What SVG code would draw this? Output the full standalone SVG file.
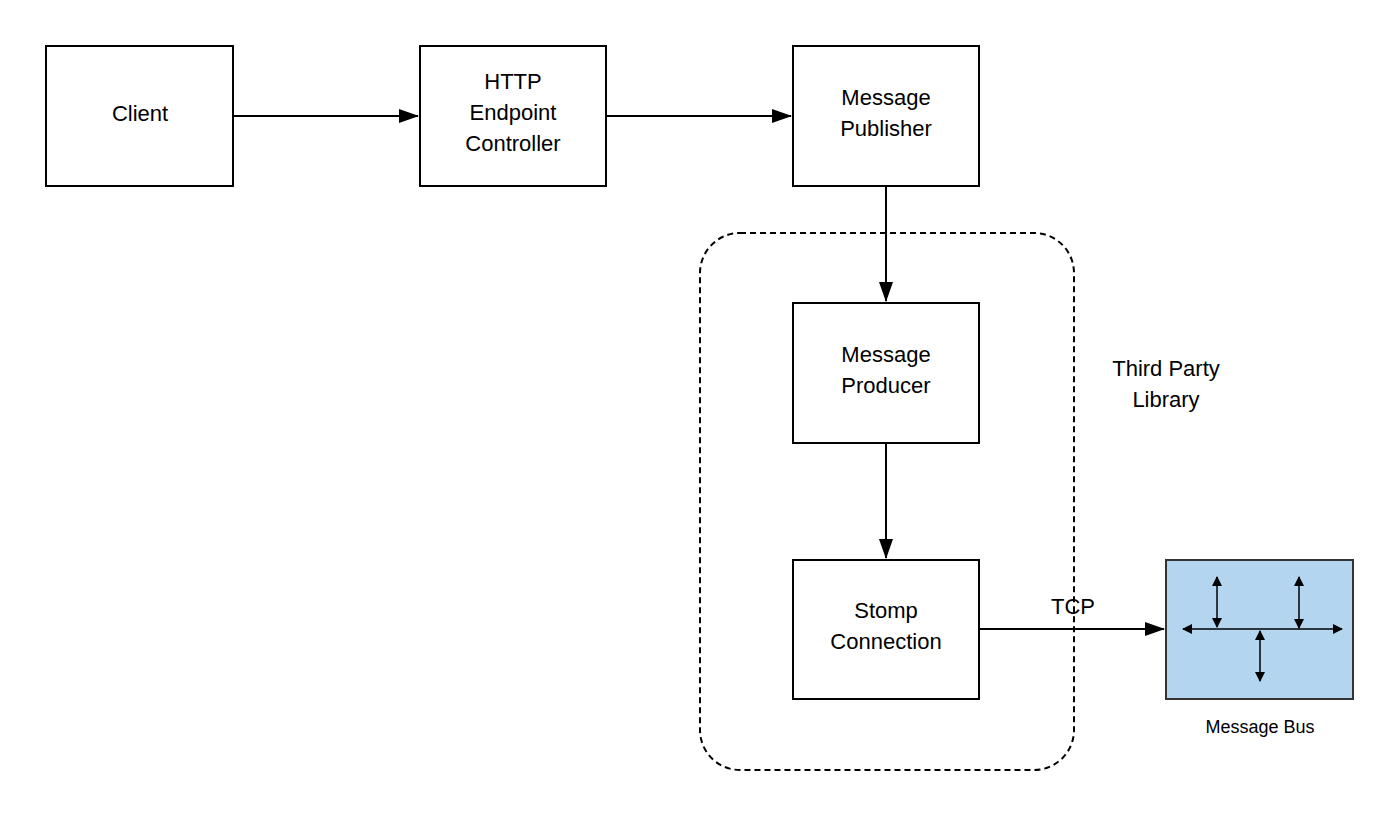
<svg xmlns="http://www.w3.org/2000/svg" width="1400" height="817" viewBox="0 0 1400 817">
<style>
.n{fill:#fff;stroke:#000;stroke-width:2}
.t{font-family:"Liberation Sans",Arial,sans-serif;font-size:22px;text-anchor:middle}
.c{stroke:#000;stroke-width:2;fill:none}
.b{stroke:#000;stroke-width:1.5;fill:none}
</style>
<defs>
<marker id="a" markerWidth="10" markerHeight="10" refX="9" refY="5" orient="auto-start-reverse" markerUnits="userSpaceOnUse"><path d="M0,0 L10,5 L0,10 Z"/></marker>
<marker id="A" markerWidth="20" markerHeight="14" refX="19" refY="7" orient="auto-start-reverse" markerUnits="userSpaceOnUse"><path d="M0,0 L20,7 L0,14 Z"/></marker>
</defs>
<rect width="1400" height="817" fill="#fff"/>
<g id="boundary"><rect x="700" y="233" width="374" height="537" rx="40" fill="none" stroke="#000" stroke-width="2" stroke-dasharray="6,4"/>
<text class="t" x="1166" y="376">Third Party</text><text class="t" x="1166" y="407">Library</text></g>
<g id="client"><rect class="n" x="46" y="46" width="187" height="140"/><text class="t" x="140" y="121">Client</text></g>
<g id="http"><rect class="n" x="420" y="46" width="186" height="140"/><text class="t" x="513" y="89">HTTP</text><text class="t" x="513" y="120">Endpoint</text><text class="t" x="513" y="151">Controller</text></g>
<g id="publisher"><rect class="n" x="793" y="46" width="186" height="140"/><text class="t" x="886" y="105">Message</text><text class="t" x="886" y="136">Publisher</text></g>
<g id="producer"><rect class="n" x="793" y="303" width="186" height="140"/><text class="t" x="886" y="362">Message</text><text class="t" x="886" y="393">Producer</text></g>
<g id="stomp"><rect class="n" x="793" y="560" width="186" height="139"/><text class="t" x="886" y="618">Stomp</text><text class="t" x="886" y="649">Connection</text></g>
<g id="bus"><rect x="1166" y="560" width="187" height="139" fill="#b3d5ef" stroke="#333" stroke-width="2"/>
<line class="b" x1="1183" y1="629" x2="1342" y2="629" marker-start="url(#a)" marker-end="url(#a)" stroke="#4a5a66"/>
<line class="b" x1="1217" y1="577" x2="1217" y2="627" marker-start="url(#a)" marker-end="url(#a)"/>
<line class="b" x1="1299" y1="577" x2="1299" y2="628" marker-start="url(#a)" marker-end="url(#a)"/>
<line class="b" x1="1260" y1="631" x2="1260" y2="681" marker-start="url(#a)" marker-end="url(#a)"/>
<text x="1260" y="733" font-family="Liberation Sans,Arial,sans-serif" font-size="18" text-anchor="middle">Message Bus</text></g>
<g id="connectors">
<line class="c" x1="233" y1="116" x2="418" y2="116" marker-end="url(#A)"/>
<line class="c" x1="606" y1="116" x2="791" y2="116" marker-end="url(#A)"/>
<line class="c" x1="886" y1="186" x2="886" y2="301" marker-end="url(#A)"/>
<line class="c" x1="886" y1="443" x2="886" y2="558" marker-end="url(#A)"/>
<line class="c" x1="979" y1="629" x2="1164" y2="629" marker-end="url(#A)"/>
<text class="t" x="1073" y="614">TCP</text>
</g>
</svg>
